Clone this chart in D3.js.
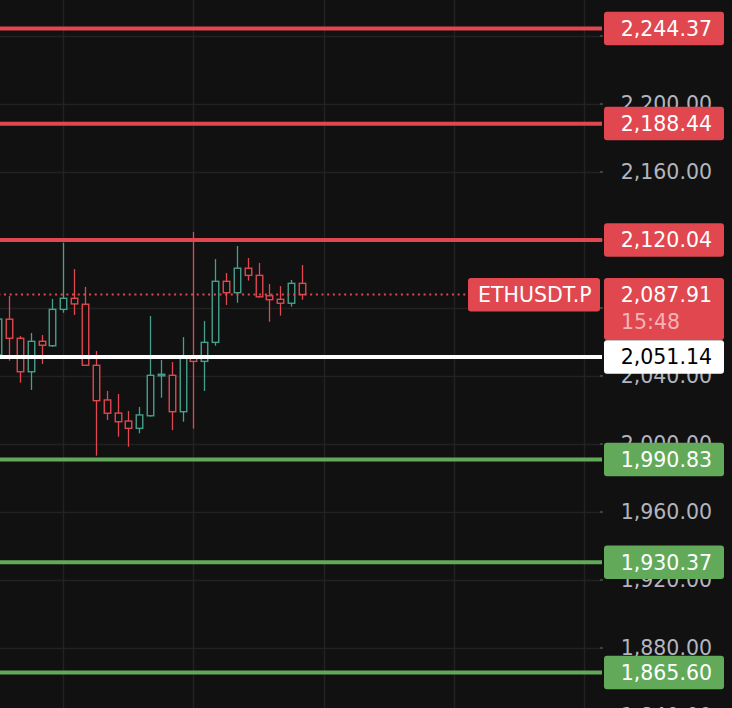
<!DOCTYPE html>
<html>
<head>
<meta charset="utf-8">
<script src="https://cdn.jsdelivr.net/npm/d3@7"></script>
<style>
  html, body { margin: 0; padding: 0; background: #111111; }
  svg { display: block; }
</style>
</head>
<body>
<svg id="chart" width="732" height="708"></svg>
<script>
// ---- data ----
const candleIndex = [0,1,2,3,4,5,6,7,8,9,10,11,12,13,14,15,16,17,18,19,20,21,22,23,24,25,26,27,28,29];
const openValues  = [2052.4,2073.4,2062.2,2042.5,2060.4,2057.8,2079.2,2085.7,2082.2,2046.3,2025.9,2018.2,2013.5,2009.2,2016.6,2040.2,2040.4,2019.0,2051.0,2048.6,2059.8,2095.7,2089.0,2103.4,2099.2,2087.2,2085.1,2082.8,2094.5];
const highValues  = [2076.0,2087.1,2063.5,2065.3,2064.1,2085.3,2118.4,2102.9,2092.4,2054.7,2031.2,2029.4,2019.4,2021.8,2075.3,2049.4,2048.2,2062.9,2124.7,2072.4,2108.8,2100.6,2116.5,2109.4,2106.5,2094.1,2092.9,2096.5,2105.3];
const lowValues   = [2050.0,2049.0,2036.1,2031.8,2047.1,2057.2,2077.2,2075.9,2046.0,1993.1,2014.1,2004.3,1998.4,2006.3,2016.1,2027.2,2008.2,2013.1,2009.0,2031.2,2057.8,2081.8,2083.1,2096.1,2086.1,2071.9,2075.5,2080.8,2084.9];
const closeValues = [2073.5,2062.2,2042.5,2060.4,2058.1,2079.2,2085.7,2082.4,2046.3,2025.5,2018.1,2013.1,2009.2,2017.1,2040.4,2041.0,2019.0,2051.0,2048.6,2059.8,2095.7,2089.0,2103.4,2099.2,2086.6,2084.9,2082.8,2094.5,2087.91];
const resistanceLevels = [2244.37, 2188.44, 2120.04];
const supportLevels = [1990.83, 1930.37, 1865.60];
const whiteLevel = 2051.14;
const currentPrice = 2087.91;
const symbolName = "ETHUSDT.P";
const countdown = "15:48";
const priceTicks = [1840,1880,1920,1960,2000,2040,2080,2120,2160,2200,2240];
const timeGridIndex = [6,18,30,42,54];

// ---- style ----
const W = 732, H = 708;
const BG = "#111111", GRID = "#222222";
const RED = "#e0474f", GREEN = "#62aa5a";
const C_UP = "#46a08c", C_DOWN = "#e0474f";
const FONT = "DejaVu Sans";
const plotRight = 602;

const svg = d3.select("#chart");
svg.append("rect").attr("width", W).attr("height", H).attr("fill", BG);

const x = d3.scaleLinear().domain([0, 1]).range([-1.85, 9.0]);
const y = d3.scaleLinear().domain([1960, 2160]).range([512, 172]);
const fmt = d3.format(",.2f");

// grid
const g = svg.append("g");
g.selectAll(".hg").data(priceTicks).join("line")
  .attr("x1", 0).attr("x2", plotRight)
  .attr("y1", d => Math.round(y(d)) + 0.5).attr("y2", d => Math.round(y(d)) + 0.5)
  .attr("stroke", GRID).attr("stroke-width", 1.5);
g.selectAll(".vg").data(timeGridIndex).join("line")
  .attr("x1", d => Math.round(x(d)) + 0.5).attr("x2", d => Math.round(x(d)) + 0.5)
  .attr("y1", 0).attr("y2", H)
  .attr("stroke", GRID).attr("stroke-width", 1.5);

// axis tick labels
const axisG = svg.append("g");
axisG.selectAll("text").data(priceTicks).join("text")
  .attr("x", 712).attr("y", d => y(d))
  .attr("dy", "0.36em")
  .attr("text-anchor", "end")
  .attr("font-family", FONT).attr("font-size", 20.5)
  .attr("fill", "#b2b5be")
  .text(d => fmt(d));
axisG.selectAll("line").data(priceTicks).join("line")
  .attr("x1", 600).attr("x2", 603)
  .attr("y1", d => y(d)).attr("y2", d => y(d))
  .attr("stroke", "#666").attr("stroke-width", 1);

// candles
const candles = openValues.map((o, i) => ({
  i: candleIndex[i], o, h: highValues[i], l: lowValues[i], c: closeValues[i]
}));
const cg = svg.append("g");
const bodyW = 6.5;
candles.forEach(d => {
  const col = d.c >= d.o ? C_UP : C_DOWN;
  const cx = Math.round(x(d.i)) + 0.5;
  const top = y(Math.max(d.o, d.c)), bot = y(Math.min(d.o, d.c));
  cg.append("line").attr("x1", cx).attr("x2", cx)
    .attr("y1", y(d.h)).attr("y2", top)
    .attr("stroke", col).attr("stroke-width", 1.3);
  cg.append("line").attr("x1", cx).attr("x2", cx)
    .attr("y1", bot).attr("y2", y(d.l))
    .attr("stroke", col).attr("stroke-width", 1.3);
  cg.append("rect")
    .attr("x", cx - bodyW / 2).attr("y", top)
    .attr("width", bodyW).attr("height", Math.max(bot - top, 1.5))
    .attr("fill", BG).attr("stroke", col).attr("stroke-width", 1.4);
});

// current price dotted line
svg.append("line")
  .attr("x1", 0).attr("x2", 468)
  .attr("y1", y(currentPrice)).attr("y2", y(currentPrice))
  .attr("stroke", RED).attr("stroke-width", 2)
  .attr("stroke-dasharray", "2 3.67").attr("stroke-dashoffset", 1.67);

// level lines
const levels = [
  ...resistanceLevels.map(v => ({v, col: RED, txt: "#ffffff"})),
  ...supportLevels.map(v => ({v, col: GREEN, txt: "#ffffff"})),
  {v: whiteLevel, col: "#ffffff", txt: "#000000"}
];
const lg = svg.append("g");
levels.forEach(d => {
  const yy = y(d.v);
  lg.append("line").attr("x1", 0).attr("x2", plotRight)
    .attr("y1", yy).attr("y2", yy)
    .attr("stroke", d.col).attr("stroke-width", 4);
  lg.append("rect").attr("x", 604).attr("y", yy - 16.8)
    .attr("width", 120).attr("height", 33.5).attr("rx", 3)
    .attr("fill", d.col);
  lg.append("text").attr("x", 712).attr("y", yy).attr("dy", "0.36em")
    .attr("text-anchor", "end")
    .attr("font-family", FONT).attr("font-size", 20.5)
    .attr("fill", d.txt).text(fmt(d.v));
});

// current price label
const cy = y(currentPrice);
svg.append("rect").attr("x", 604).attr("y", cy - 16.5)
  .attr("width", 120).attr("height", 62).attr("rx", 3).attr("fill", RED);
svg.append("text").attr("x", 712).attr("y", cy).attr("dy", "0.36em")
  .attr("text-anchor", "end").attr("font-family", FONT).attr("font-size", 20.5)
  .attr("fill", "#ffffff").text(fmt(currentPrice));
svg.append("text").attr("x", 621).attr("y", cy + 27).attr("dy", "0.36em")
  .attr("text-anchor", "start").attr("font-family", FONT).attr("font-size", 20.5)
  .attr("fill", "#f4b3b6").text(countdown);

// symbol label
svg.append("rect").attr("x", 468).attr("y", cy - 16.5)
  .attr("width", 132).attr("height", 33.5).attr("rx", 3).attr("fill", RED);
svg.append("text").attr("x", 478).attr("y", cy).attr("dy", "0.36em")
  .attr("text-anchor", "start").attr("font-family", FONT).attr("font-size", 20.5)
  .attr("fill", "#ffffff").text(symbolName);
</script>
</body>
</html>
